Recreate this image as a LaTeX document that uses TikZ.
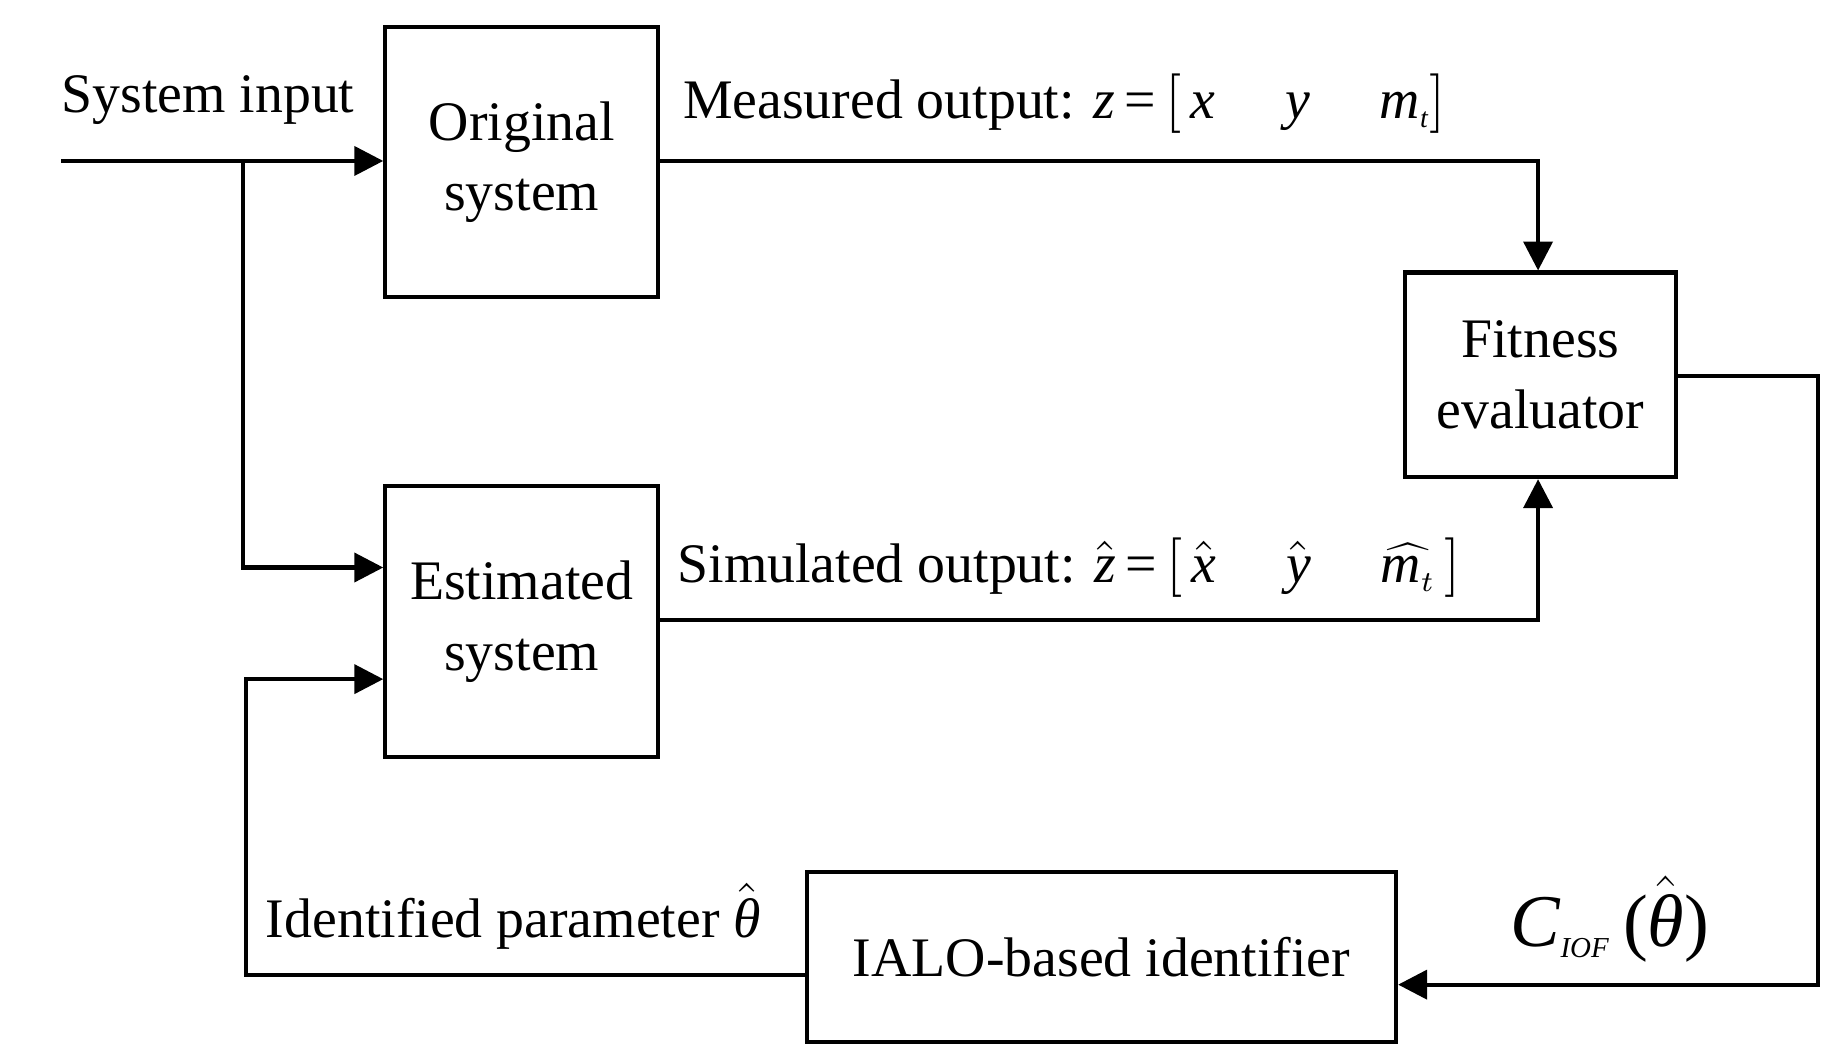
\documentclass[tikz,border=0pt]{standalone}
\usepackage{fontspec}
\setmainfont{Liberation Serif}
\usetikzlibrary{arrows.meta}
\newcommand{\vi}[1]{\textit{#1}}
\begin{document}
\begin{tikzpicture}[x=0.01cm,y=-0.01cm,
  blk/.style={draw,line width=1pt,minimum width=2.32cm,align=center,font=\fontsize{13.5}{17}\selectfont,inner sep=0pt},
  lbl/.style={font=\fontsize{13.5}{17}\selectfont,inner sep=0pt},
  ln/.style={line width=1pt},
  arr/.style={ln,-{Triangle[length=7pt,width=7pt]}}]
\useasboundingbox (0,0) rectangle (1560,895);
\node[blk,minimum height=2.30cm] (orig) at (444,138) {Original\\system};
\node[blk,minimum height=2.31cm] (est) at (444,529) {Estimated\\system};
\node[blk,minimum width=2.30cm,minimum height=1.74cm] (fit) at (1311,319) {Fitness\\evaluator};
\node[blk,minimum width=5.01cm,minimum height=1.45cm] (ialo) at (937.5,814.5) {IALO-based identifier};
\coordinate (in) at (52,137);
\coordinate (br) at (207,137);
\coordinate (c1) at (1309,137);
\coordinate (c2) at (1309,528);
\coordinate (c3) at (1547,320);
\coordinate (c4) at (1547,838);
\coordinate (c5) at (209,830);
\draw[arr] (in) -- (orig.west |- in);
\draw[arr] (br) |- (est.west |- 0,483);
\draw[arr] (orig.east |- c1) -- (c1) -- (fit.north -| c1);
\draw[arr] (est.east |- c2) -- (c2) -- (fit.south -| c2);
\draw[arr] (fit.east |- c3) -- (c3) -- (c4) -- (ialo.east |- c4);
\draw[arr] (ialo.west |- c5) -- (c5) |- (est.west |- 0,578);
\node[lbl] (t1) at (177,85) {System input};
\node[lbl] (t2) at (906,88) {Measured output: \vi{z}\,=\,$\bigl[$\,\vi{x}\quad\ \vi{y}\quad\ \vi{m}$_{\scriptscriptstyle\mathit{t}}\bigr]$};
\node[lbl] (t3) at (910,482) {Simulated output: $\hat{\vi{z}}$\,=\,$\Bigl[$\,$\hat{\vi{x}}$\quad\ $\hat{\vi{y}}$\quad\ $\widehat{\vi{m}_{\scriptscriptstyle t}}$\,$\Bigr]$};
\node[lbl] (t4) at (437,780) {Identified parameter $\hat{\vi{θ}}$};
\node[lbl,font=\fontsize{18}{20}\selectfont] (t5) at (1370,782) {\vi{C}$_{\textit{\scriptsize IOF}}$\,($\hat{\vi{θ}}$)};
\end{tikzpicture}
\end{document}
